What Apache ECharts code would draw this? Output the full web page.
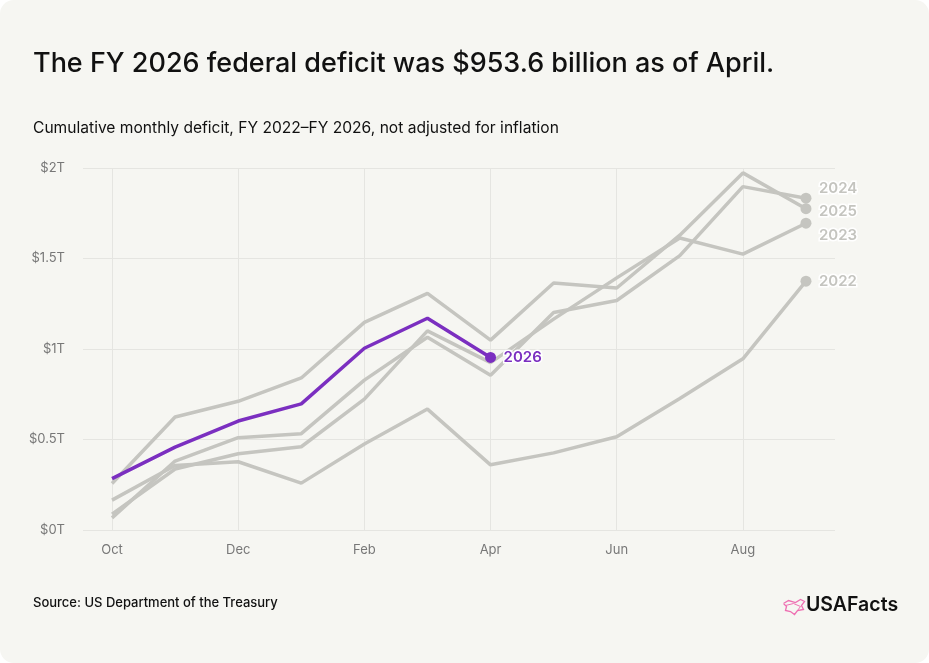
<!DOCTYPE html>
<html><head><meta charset="utf-8">
<script src="https://cdn.jsdelivr.net/npm/echarts@6/dist/echarts.min.js"></script>
<style>
html,body{margin:0;padding:0;background:#ffffff;}
#chart{width:929px;height:663px;background:#f6f6f2;border-radius:14px;overflow:hidden;}
</style></head>
<body><div id="chart"></div>
<script>
// Months of the fiscal year (Oct–Sep)
const months = ['Oct','Nov','Dec','Jan','Feb','Mar','Apr','May','Jun','Jul','Aug','Sep'];
const labelledMonths = [0, 2, 4, 6, 8, 10];
const yTicks = [0, 0.5, 1, 1.5, 2];
// Cumulative deficit, trillions of dollars
const fy2022 = [0.165, 0.356, 0.377, 0.259, 0.475, 0.668, 0.360, 0.426, 0.515, 0.726, 0.946, 1.375];
const fy2023 = [0.088, 0.337, 0.421, 0.460, 0.723, 1.100, 0.925, 1.165, 1.393, 1.613, 1.524, 1.695];
const fy2024 = [0.067, 0.381, 0.510, 0.532, 0.828, 1.065, 0.855, 1.202, 1.268, 1.516, 1.897, 1.833];
const fy2025 = [0.257, 0.624, 0.711, 0.840, 1.147, 1.307, 1.049, 1.365, 1.337, 1.629, 1.973, 1.775];
const fy2026 = [0.284, 0.458, 0.602, 0.697, 1.004, 1.170, 0.9536];

const GRAY = '#c5c5c0';
const PURPLE = '#7b2fc0';
const FONT = 'Inter';

function pairs(arr){ return arr.map((v,i)=>[i,v]); }
function lastDot(n, size){ return (v, p) => p.dataIndex === n-1 ? size : 0; }

function graySeries(name, arr, offY){
  return {
    name: name, type: 'line', data: pairs(arr), z: 2,
    showSymbol: true, symbol: 'circle', symbolSize: lastDot(arr.length, 11),
    itemStyle: {color: GRAY}, lineStyle: {color: GRAY, width: 3.5},
    emphasis: {disabled: true}, silent: true,
    endLabel: {show: true, formatter: name, color: '#c4c4bf', fontSize: 15, fontWeight: 600,
      fontFamily: FONT, distance: 13, offset: [0, offY], textBorderColor: '#ffffff', textBorderWidth: 3}
  };
}

const chart = echarts.init(document.getElementById('chart'), null, {renderer: 'canvas'});
chart.setOption({
  backgroundColor: 'transparent',
  animation: false,
  title: [
    {text: 'The FY 2026 federal deficit was $953.6 billion as of April.', left: 33, top: 50, padding: 0,
     textStyle: {fontFamily: FONT, fontSize: 27, fontWeight: 500, color: '#111111'}},
    {text: 'Cumulative monthly deficit, FY 2022\u2013FY 2026, not adjusted for inflation', left: 33, top: 120, padding: 0,
     textStyle: {fontFamily: FONT, fontSize: 15.6, fontWeight: 400, color: '#111111'}},
    {text: 'Source: US Department of the Treasury', left: 33, top: 597, padding: 0,
     textStyle: {fontFamily: FONT, fontSize: 13, fontWeight: 500, color: '#111111'}}
  ],
  grid: {left: 83, right: 94, top: 168, bottom: 133, containLabel: false},
  xAxis: {
    type: 'value', min: -0.46, max: 11.46,
    axisLine: {show: false}, axisTick: {show: false}, splitLine: {show: false},
    axisLabel: {customValues: labelledMonths, formatter: v => months[Math.round(v)] || '',
      color: '#777777', fontSize: 13, fontFamily: FONT, margin: 14}
  },
  yAxis: {
    type: 'value', min: 0, max: 2, interval: 0.5,
    axisLine: {show: false}, axisTick: {show: false},
    splitLine: {lineStyle: {color: '#e5e5e1', width: 1}},
    axisLabel: {formatter: v => '$' + v + 'T', color: '#777777', fontSize: 13, fontFamily: FONT, margin: 18}
  },
  series: [
    {type: 'line', data: [], silent: true, z: 1,
     markLine: {silent: true, symbol: 'none', z: 1, animation: false,
       lineStyle: {color: '#e5e5e1', width: 1, type: 'solid'}, label: {show: false},
       emphasis: {disabled: true},
       data: labelledMonths.map(i => ({xAxis: i}))}},
    graySeries('2022', fy2022, 0),
    graySeries('2023', fy2023, 12),
    graySeries('2024', fy2024, -10),
    graySeries('2025', fy2025, 3),
    {
      name: '2026', type: 'line', data: pairs(fy2026), z: 5,
      showSymbol: true, symbol: 'circle', symbolSize: lastDot(fy2026.length, 11),
      itemStyle: {color: PURPLE}, lineStyle: {color: PURPLE, width: 3.5},
      emphasis: {disabled: true}, silent: true,
      endLabel: {show: true, formatter: '2026', color: PURPLE, fontSize: 15, fontWeight: 600,
        fontFamily: FONT, distance: 13, textBorderColor: '#ffffff', textBorderWidth: 3}
    }
  ],
  graphic: [
    {type: 'polyline', left: 781, top: 597, silent: true,
     shape: {points: [[0,4],[5,1],[12,3],[17,0],[21,2],[18,6],[20,10],[14,11],[11,15],[7,12],[2,11],[3,7],[0,4]]},
     style: {stroke: '#ee6fb2', fill: 'none', lineWidth: 1.3}},
    {type: 'polyline', left: 783, top: 601, silent: true,
     shape: {points: [[0,2],[8,0],[15,3],[12,7]]},
     style: {stroke: '#ee6fb2', fill: 'none', lineWidth: 1}},
    {type: 'text', left: 806, top: 595, silent: true,
     style: {text: 'USAFacts', fontFamily: FONT, fontSize: 19.5, fontWeight: 600, fill: '#111111'}}
  ]
});
</script>
</body></html>
